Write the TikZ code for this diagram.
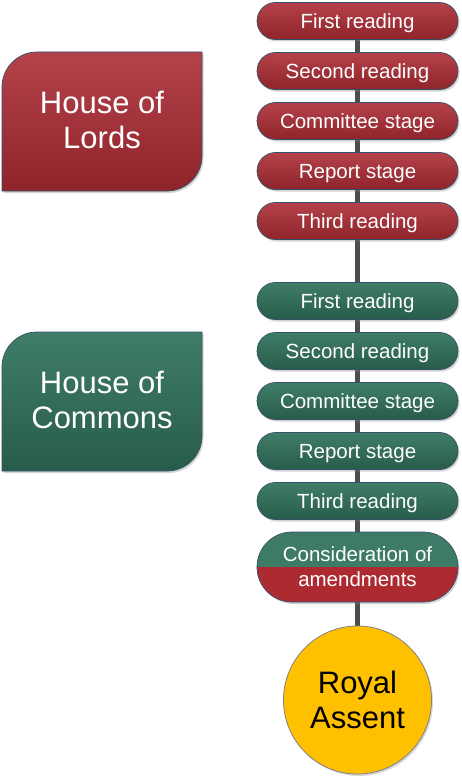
\documentclass[tikz,border=0pt]{standalone}
\usepackage{fontspec}
\setmainfont{Liberation Sans}
\usetikzlibrary{shapes.misc,shadows,backgrounds}
\definecolor{redtop}{HTML}{B5424A}
\definecolor{redbot}{HTML}{8E242A}
\definecolor{grntop}{HTML}{3F7D68}
\definecolor{grnbot}{HTML}{285C4A}
\definecolor{cgreen}{HTML}{3E7B66}
\definecolor{cred}{HTML}{AE2A31}
\definecolor{edgeblue}{HTML}{34506A}
\definecolor{linegray}{HTML}{4D4D4D}
\definecolor{gold}{HTML}{FFC000}
\tikzset{
  pill/.style={rounded rectangle, minimum width=201pt, minimum height=37pt,
    draw=edgeblue, line width=0.7pt, text=white, inner sep=0pt,
    font=\fontsize{20.5}{24}\selectfont,
    drop shadow={opacity=0.35, shadow xshift=1.5pt, shadow yshift=-2pt}},
  stagepill/.style={pill, text height=17pt, text depth=2pt},
  lordspill/.style={stagepill, top color=redtop, bottom color=redbot},
  commonspill/.style={stagepill, top color=grntop, bottom color=grnbot},
  housetext/.style={text=white, align=center, font=\fontsize{31}{35}\selectfont,
    text depth=4pt, minimum width=200pt, minimum height=139pt},
  houseshape/.style={draw=edgeblue, line width=0.7pt,
    drop shadow={opacity=0.35, shadow xshift=1.5pt, shadow yshift=-2pt}},
  connector/.style={draw=linegray, line width=4.5pt}
}
\begin{document}
\begin{tikzpicture}[x=1pt,y=-1pt]
\useasboundingbox (0,0) rectangle (461,776);
% House shapes
\shade[houseshape, top color=redtop, bottom color=redbot]
  (2,87) arc[start angle=180, end angle=270, radius=35] -- (202,52) -- (202,156)
  arc[start angle=0, end angle=90, radius=35] -- (2,191) -- cycle;
\node[housetext] (lords) at (102,121.5) {House of\\Lords};
\shade[houseshape, top color=grntop, bottom color=grnbot]
  (2,367) arc[start angle=180, end angle=270, radius=35] -- (202,332) -- (202,436)
  arc[start angle=0, end angle=90, radius=35] -- (2,471) -- cycle;
\node[housetext] (commons) at (102,401.5) {House of\\Commons};
% Lords stages
\node[lordspill] (l1) at (357.5,21) {First reading};
\node[lordspill] (l2) at (357.5,71) {Second reading};
\node[lordspill] (l3) at (357.5,121) {Committee stage};
\node[lordspill] (l4) at (357.5,171) {Report stage};
\node[lordspill] (l5) at (357.5,221) {Third reading};
% Commons stages
\node[commonspill] (c1) at (357.5,301) {First reading};
\node[commonspill] (c2) at (357.5,351) {Second reading};
\node[commonspill] (c3) at (357.5,401) {Committee stage};
\node[commonspill] (c4) at (357.5,451) {Report stage};
\node[commonspill] (c5) at (357.5,501) {Third reading};
% Consideration of amendments
\node[pill, minimum height=70pt, fill=cgreen, align=center,
  font=\fontsize{20.5}{25}\selectfont, text depth=1.5pt,
  path picture={\fill[cred] (path picture bounding box.west) rectangle (path picture bounding box.south east);}]
  (ca) at (357.5,567) {Consideration of\\amendments};
% Royal assent
\node[circle, minimum size=148pt, fill=gold, draw=gray, line width=0.8pt,
  align=center, font=\fontsize{31}{35}\selectfont, inner sep=0pt,
  drop shadow={opacity=0.3, shadow xshift=1.5pt, shadow yshift=-2pt}]
  (ra) at (357.5,700) {Royal\\Assent};
% connector
\begin{scope}[on background layer]
\draw[connector] (l1.center) -- (ra.center);
\end{scope}
\end{tikzpicture}
\end{document}
